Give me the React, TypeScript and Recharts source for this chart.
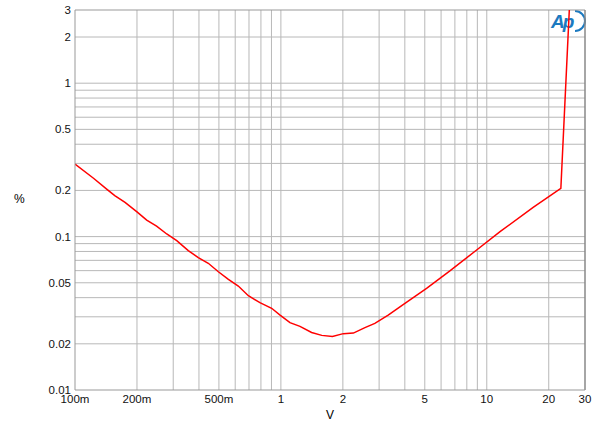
import React from 'react'
import { Line, LineChart, ReferenceLine, XAxis, YAxis } from 'recharts'

// level sweep, THD+N vs output voltage
const volts = [
  0.1, 0.123, 0.143, 0.156, 0.175, 0.2, 0.223, 0.249, 0.279, 0.312, 0.355, 0.397, 0.444, 0.497, 0.556, 0.621,
  0.695, 0.791, 0.902, 0.991, 1.107, 1.238, 1.41, 1.58, 1.78, 2.01, 2.25, 2.56, 2.86, 3.32, 3.94, 5.1, 6.62, 8.93,
  11.6, 16.8, 22.9, 25.2,
]
const thdn = [
  0.297, 0.24, 0.203, 0.185, 0.167, 0.145, 0.128, 0.117, 0.104, 0.094, 0.081, 0.073, 0.067, 0.059, 0.0527, 0.0476,
  0.0412, 0.0371, 0.0341, 0.0308, 0.0275, 0.026, 0.0237, 0.0227, 0.0223, 0.0233, 0.0235, 0.0255, 0.0272, 0.0308,
  0.0362, 0.046, 0.0597, 0.0818, 0.1077, 0.155, 0.206, 3.1,
]

const xTicks = [0.1, 0.2, 0.5, 1, 2, 5, 10, 20, 30]
const yTicks = [0.01, 0.02, 0.05, 0.1, 0.2, 0.5, 1, 2, 3]
const xGrid = [0.2, 0.3, 0.4, 0.5, 0.6, 0.7, 0.8, 0.9, 1, 2, 3, 4, 5, 6, 7, 8, 9, 10, 20]
const yGrid = [
  0.02, 0.03, 0.04, 0.05, 0.06, 0.07, 0.08, 0.09, 0.1, 0.2, 0.3, 0.4, 0.5, 0.6, 0.7, 0.8, 0.9, 1, 2,
]

const data = volts.map((v, i) => ({ v, pct: thdn[i] }))

const fmtV = (v: number) => (v < 1 ? `${Math.round(v * 1000)}m` : `${v}`)
const font = 'Liberation Sans, Arial, sans-serif'
const tickStyle = { fontSize: 11.5, fill: '#111', fontFamily: font }
const gridColor = '#b8b8b8'

const Logo = () => (
  <svg width={40} height={28} style={{ position: 'absolute', left: 548, top: 7 }}>
    <text x={3} y={21} fontFamily={font} fontStyle="italic" fontWeight="bold" fontSize={19} fill="#1c7ac0" letterSpacing={-2}>
      Ap
    </text>
    <path d="M 27 4 A 10 10 0 0 1 27 24" fill="none" stroke="#1c7ac0" strokeWidth={2} />
  </svg>
)

export default function App() {
  return (
    <div style={{ position: 'absolute', left: 0, top: 0, width: 600, height: 436, background: '#fff' }}>
      <Logo />
      <div style={{ position: 'absolute', left: 14, top: 192, fontFamily: font, fontSize: 12 }}>%</div>
      <div style={{ position: 'absolute', left: 326, top: 408, fontFamily: font, fontSize: 12 }}>V</div>
      <LineChart
        width={600}
        height={436}
        data={data}
        margin={{ top: 10, right: 15, left: 0, bottom: 0 }}
        style={{ position: 'absolute', left: 0, top: 0 }}
      >
        <XAxis
          dataKey="v"
          type="number"
          scale="log"
          domain={[0.1, 30]}
          ticks={xTicks}
          tickFormatter={fmtV}
          allowDataOverflow
          height={46}
          tickSize={0}
          tickMargin={5}
          tick={tickStyle}
          axisLine={{ stroke: '#999' }}
          interval={0}
        />
        <YAxis
          type="number"
          scale="log"
          domain={[0.01, 3]}
          ticks={yTicks}
          allowDataOverflow
          width={75}
          tickSize={0}
          tickMargin={4}
          tick={tickStyle}
          axisLine={{ stroke: '#999' }}
          interval={0}
        />
        {xGrid.map((x) => (
          <ReferenceLine key={`x${x}`} x={x} stroke={gridColor} />
        ))}
        {yGrid.map((y) => (
          <ReferenceLine key={`y${y}`} y={y} stroke={gridColor} />
        ))}
        <ReferenceLine y={3} stroke="#999" />
        <ReferenceLine x={30} stroke="#888" strokeWidth={1.5} />
        <Line
          dataKey="pct"
          type="linear"
          stroke="#ff0000"
          strokeWidth={1.5}
          dot={false}
          isAnimationActive={false}
        />
      </LineChart>
    </div>
  )
}
